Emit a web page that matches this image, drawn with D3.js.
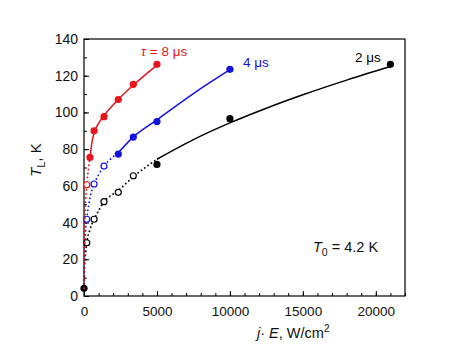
<!DOCTYPE html>
<html>
<head>
<meta charset="utf-8">
<script src="https://cdn.jsdelivr.net/npm/d3@7"></script>
<style>
  body { margin: 0; background: #fff; }
  svg { font-family: "Liberation Sans", Arial, Helvetica, sans-serif; }
</style>
</head>
<body>
<div id="chart"></div>
<script>
// measured points, [j*E in W/cm^2, T_L in K]
const tau8Filled = [[410, 75.5], [690, 90], [1370, 97.7], [2350, 107], [3380, 115.3], [5000, 126.2]];
const tau8Open = [[190, 60.6]];
const tau4Filled = [[2350, 77.3], [3380, 86.6], [5000, 95], [10000, 123.5]];
const tau4Open = [[190, 41.8], [690, 61], [1370, 70.8]];
const tau2Filled = [[0, 4.2], [5000, 71.7], [10000, 96.6], [21000, 126.2]];
const tau2Open = [[190, 29], [690, 41.8], [1370, 51.4], [2350, 56.5], [3380, 65.5]];

// fitted curves
const tau8Fit = [[410, 75.5], [550, 84], [700, 89], [1000, 94], [1400, 98.5], [2400, 107.5], [3400, 115], [5000, 125.8]];
const tau4Fit = [[2350, 78], [3400, 86.8], [5000, 96], [7500, 110.3], [10000, 123.3]];
const tau2Fit = [[5000, 74.5], [7500, 85.2], [10000, 94.3], [12500, 102.3], [15000, 109.6], [18000, 117.6], [21000, 125]];

const tau8Dots = [[0, 4.2], [20, 25], [60, 40], [120, 52], [190, 60.6], [300, 69], [410, 75.5]];
const tau4Dots = [[0, 4.2], [30, 22], [90, 33], [190, 41.8], [400, 53], [690, 61], [1000, 66], [1370, 70.8], [1800, 74.5], [2350, 78]];
const tau2Dots = [[0, 4.2], [40, 16], [100, 22], [190, 29], [400, 36], [690, 41.8], [1000, 46.5], [1370, 51.4], [1800, 54.5], [2350, 57.5], [2900, 61.5], [3380, 65], [4200, 70], [5000, 74.5]];

const xTicks = [0, 5000, 10000, 15000, 20000];
const yTicks = [0, 20, 40, 60, 80, 100, 120, 140];

const red = '#e8141c';
const blue = '#1212e0';
const black = '#000';

const width = 474;
const height = 362;

const svg = d3.select('#chart')
  .append('svg')
  .attr('width', width)
  .attr('height', height);

const xScale = d3.scaleLinear()
  .domain([0, 22000])
  .range([84, 405]);

const yScale = d3.scaleLinear()
  .domain([0, 140])
  .range([296, 39]);

// minor ticks
svg.append('g')
  .attr('transform', `translate(0, ${yScale(0)})`)
  .call(d3.axisBottom(xScale).tickValues(d3.range(0, 22001, 1000)).tickSize(-3).tickSizeOuter(0).tickFormat(''))
  .call(g => g.select('.domain').remove());

svg.append('g')
  .attr('transform', `translate(${xScale(0)}, 0)`)
  .call(d3.axisLeft(yScale).tickValues(d3.range(0, 141, 10)).tickSize(-3).tickSizeOuter(0).tickFormat(''))
  .call(g => g.select('.domain').remove());

// major ticks
const xAxis = svg.append('g')
  .attr('transform', `translate(0, ${yScale(0)})`)
  .call(d3.axisBottom(xScale).tickValues(xTicks).tickSize(-5).tickSizeOuter(0).tickPadding(10).tickFormat(d3.format('d')));
xAxis.select('.domain').remove();
xAxis.selectAll('text').attr('font-size', 13.5).attr('fill', '#111');

const yAxis = svg.append('g')
  .attr('transform', `translate(${xScale(0)}, 0)`)
  .call(d3.axisLeft(yScale).tickValues(yTicks).tickSize(-5).tickSizeOuter(0).tickPadding(6));
yAxis.select('.domain').remove();
yAxis.selectAll('text').attr('font-size', 14).attr('fill', '#111');

svg.selectAll('.tick line').attr('stroke', '#000').attr('stroke-width', 1);

// frame
svg.append('rect')
  .attr('x', xScale(0))
  .attr('y', yScale(140))
  .attr('width', xScale(22000) - xScale(0))
  .attr('height', yScale(0) - yScale(140))
  .attr('fill', 'none')
  .attr('stroke', '#000')
  .attr('stroke-width', 1.2);

const line = d3.line()
  .x(d => xScale(d[0]))
  .y(d => yScale(d[1]))
  .curve(d3.curveMonotoneX);

const series = [
  {fit: tau2Fit, dots: tau2Dots, filled: tau2Filled, open: tau2Open, color: black},
  {fit: tau4Fit, dots: tau4Dots, filled: tau4Filled, open: tau4Open, color: blue},
  {fit: tau8Fit, dots: tau8Dots, filled: tau8Filled, open: tau8Open, color: red}
];

series.forEach(s => {
  svg.append('path')
    .attr('d', line(s.dots))
    .attr('fill', 'none')
    .attr('stroke', s.color)
    .attr('stroke-width', 1.8)
    .attr('stroke-linecap', 'round')
    .attr('stroke-dasharray', '0.1,4');

  svg.append('path')
    .attr('d', line(s.fit))
    .attr('fill', 'none')
    .attr('stroke', s.color)
    .attr('stroke-width', 1.5);

  svg.append('g')
    .selectAll('circle')
    .data(s.open)
    .enter()
    .append('circle')
    .attr('cx', d => xScale(d[0]))
    .attr('cy', d => yScale(d[1]))
    .attr('r', 3)
    .attr('fill', '#fff')
    .attr('stroke', s.color)
    .attr('stroke-width', 1.2);

  svg.append('g')
    .selectAll('circle')
    .data(s.filled)
    .enter()
    .append('circle')
    .attr('cx', d => xScale(d[0]))
    .attr('cy', d => yScale(d[1]))
    .attr('r', 3.6)
    .attr('fill', s.color);
});

// series labels
const tauLabel = svg.append('text')
  .attr('x', 141)
  .attr('y', 56)
  .attr('font-size', 13.5)
  .attr('fill', red);
tauLabel.append('tspan').attr('font-style', 'italic').text('τ');
tauLabel.append('tspan').text(' = 8 μs');

svg.append('text')
  .attr('x', 243)
  .attr('y', 67)
  .attr('font-size', 13.5)
  .attr('fill', blue)
  .text('4 μs');

svg.append('text')
  .attr('x', 355)
  .attr('y', 62)
  .attr('font-size', 13.5)
  .attr('fill', black)
  .text('2 μs');

// T0 note
const t0 = svg.append('text')
  .attr('x', 313)
  .attr('y', 252)
  .attr('font-size', 14.5)
  .attr('fill', '#111');
t0.append('tspan').attr('font-style', 'italic').text('T');
t0.append('tspan').attr('font-size', 10.5).attr('dy', 4).text('0');
t0.append('tspan').attr('dy', -4).text(' = 4.2 K');

// axis titles
const yTitle = svg.append('text')
  .attr('transform', 'translate(41, 160) rotate(-90)')
  .attr('text-anchor', 'middle')
  .attr('font-size', 15)
  .attr('fill', '#111');
yTitle.append('tspan').attr('font-style', 'italic').text('T');
yTitle.append('tspan').attr('font-size', 10.5).attr('dy', 4).text('L');
yTitle.append('tspan').attr('dy', -4).text(', K');

const xTitle = svg.append('text')
  .attr('x', 257)
  .attr('y', 338)
  .attr('font-size', 14.5)
  .attr('fill', '#111');
xTitle.append('tspan').attr('font-style', 'italic').text('j');
xTitle.append('tspan').text('· ');
xTitle.append('tspan').attr('font-style', 'italic').text('E');
xTitle.append('tspan').text(', W/cm');
xTitle.append('tspan').attr('font-size', 10).attr('dy', -6).text('2');
</script>
</body>
</html>
